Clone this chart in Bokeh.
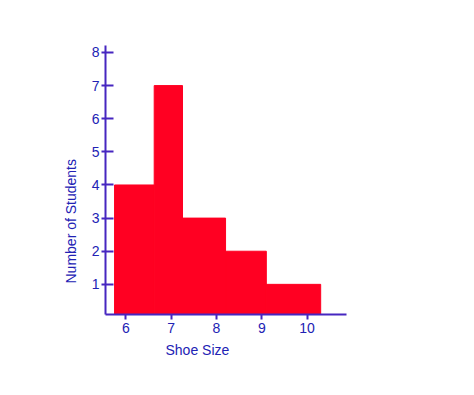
from bokeh.plotting import figure
from bokeh.models import Range1d, FixedTicker, Title
from bokeh.embed import file_html
from bokeh.resources import INLINE

# Data
bin_left = [5.75, 6.625, 7.25, 8.2, 9.1]
bin_right = [6.625, 7.25, 8.2, 9.1, 10.3]
counts = [4, 7, 3, 2, 1]
x_ticks = [6, 7, 8, 9, 10]
y_ticks = [1, 2, 3, 4, 5, 6, 7, 8]
x_title = "Shoe Size"
y_title = "Number of Students"

AXIS = "#4626c0"
TEXT = "#2222b4"
BAR = "#ff0022"
FONT = "Liberation Sans"

p = figure(width=458, height=379, output_backend="svg", toolbar_location=None,
           x_range=Range1d(5.55, 10.87), y_range=Range1d(0.09, 8.21),
           min_border_left=105, min_border_right=112, min_border_top=45, min_border_bottom=65)
p.outline_line_color = None
p.grid.visible = False

p.quad(left=bin_left, right=bin_right, bottom=[0] * len(counts), top=counts,
       fill_color=BAR, line_color=BAR, line_width=1)

for ax in (p.xaxis[0], p.yaxis[0]):
    ax.axis_line_color = AXIS
    ax.axis_line_width = 2
    ax.major_tick_line_color = AXIS
    ax.major_tick_line_width = 2
    ax.minor_tick_line_color = None
    ax.major_label_text_color = TEXT
    ax.major_label_text_font = FONT
    ax.major_label_text_font_size = "14px"

p.xaxis.ticker = FixedTicker(ticks=x_ticks)
p.yaxis.ticker = FixedTicker(ticks=y_ticks)
p.xaxis.major_tick_in = 0
p.xaxis.major_tick_out = 5
p.xaxis.major_label_standoff = 3
p.yaxis.major_tick_in = 8
p.yaxis.major_tick_out = 4
p.yaxis.major_label_standoff = 2

p.add_layout(Title(text=x_title, align="left", offset=60, standoff=9, text_color=TEXT,
                   text_font=FONT, text_font_size="14px", text_font_style="normal"), "below")
p.add_layout(Title(text=y_title, align="left", offset=31, standoff=19, text_color=TEXT,
                   text_font=FONT, text_font_size="14px", text_font_style="normal"), "left")

open("out.html", "w").write(file_html(p, INLINE))
